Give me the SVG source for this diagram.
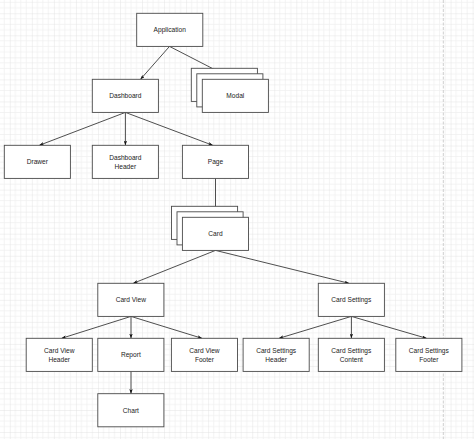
<svg xmlns="http://www.w3.org/2000/svg" width="474" height="439" viewBox="0 0 474 439">
  <defs>
    <pattern id="grid" patternUnits="userSpaceOnUse" x="9.8" y="13.3" width="22.04" height="22.04">
      <path d="M5.51 0V22.04M11.02 0V22.04M16.53 0V22.04M0 5.51H22.04M0 11.02H22.04M0 16.53H22.04" stroke="#f1f1f1" stroke-width="0.8" fill="none"/>
      <path d="M0 0V22.04M0 0H22.04" stroke="#e2e2e2" stroke-width="0.9" fill="none"/>
    </pattern>
    <marker id="arr" viewBox="0 0 8 6" refX="8" refY="3" markerWidth="4.6" markerHeight="3.5" markerUnits="userSpaceOnUse" orient="auto">
      <path d="M0 0L8 3L0 6L2 3Z" fill="#111"/>
    </marker>
    <style>
      .box{fill:#fff;stroke:#4a4a4a;stroke-width:0.9}
      .lbl{font-family:"Liberation Sans",Arial,sans-serif;font-size:6.6px;fill:#222;text-anchor:middle;dominant-baseline:central}
      .edge{stroke:#222;stroke-width:0.8;fill:none;marker-end:url(#arr)}
    </style>
  </defs>
  <rect x="0" y="0" width="474" height="439" fill="#fff"/>
  <rect x="0" y="0" width="474" height="439" fill="url(#grid)"/>
  <line x1="443.3" y1="0" x2="443.3" y2="439" stroke="#cfcfcf" stroke-width="1" stroke-dasharray="3 1.5"/>

  <g id="connectors">
    <line class="edge" x1="169.5" y1="46.4" x2="140.5" y2="79.3"/>
    <line class="edge" x1="169.5" y1="46.4" x2="233.5" y2="79.3"/>
    <line class="edge" x1="125.4" y1="112.4" x2="39.3" y2="145.3"/>
    <line class="edge" x1="125.4" y1="112.4" x2="125.4" y2="145.3"/>
    <line class="edge" x1="125.4" y1="112.4" x2="212.8" y2="145.3"/>
    <line class="edge" x1="215.5" y1="178.4" x2="215.5" y2="217.3"/>
    <line class="edge" x1="215.5" y1="250.4" x2="133.2" y2="283.3"/>
    <line class="edge" x1="215.5" y1="250.4" x2="349" y2="283.3"/>
    <line class="edge" x1="131" y1="316.4" x2="61.6" y2="338.3"/>
    <line class="edge" x1="131" y1="316.4" x2="131" y2="338.3"/>
    <line class="edge" x1="131" y1="316.4" x2="202" y2="338.3"/>
    <line class="edge" x1="131" y1="371.4" x2="131" y2="393.7"/>
    <line class="edge" x1="351.4" y1="316.4" x2="279" y2="338.3"/>
    <line class="edge" x1="351.4" y1="316.4" x2="351.4" y2="338.3"/>
    <line class="edge" x1="351.4" y1="316.4" x2="426.6" y2="338.3"/>
  </g>

  <g id="application">
    <rect class="box" x="136.7" y="13.3" width="66.1" height="33.1"/>
    <text class="lbl" x="169.75" y="29.85">Application</text>
  </g>
  <g id="modal">
    <rect class="box" x="191.3" y="68.3" width="66.1" height="33.1"/>
    <rect class="box" x="196.8" y="73.8" width="66.1" height="33.1"/>
    <rect class="box" x="202.3" y="79.3" width="66.1" height="33.1"/>
    <text class="lbl" x="235.35" y="95.85">Modal</text>
  </g>
  <g id="dashboard">
    <rect class="box" x="92.3" y="79.3" width="66.1" height="33.1"/>
    <text class="lbl" x="125.35" y="95.85">Dashboard</text>
  </g>
  <g id="drawer">
    <rect class="box" x="4.3" y="145.3" width="66.1" height="33.1"/>
    <text class="lbl" x="37.35" y="161.85">Drawer</text>
  </g>
  <g id="dashboard-header">
    <rect class="box" x="92.3" y="145.3" width="66.1" height="33.1"/>
    <text class="lbl" x="125.35" y="157.7">Dashboard</text>
    <text class="lbl" x="125.35" y="166">Header</text>
  </g>
  <g id="page">
    <rect class="box" x="182.4" y="145.3" width="66.1" height="33.1"/>
    <text class="lbl" x="215.45" y="161.85">Page</text>
  </g>
  <g id="card">
    <rect class="box" x="171.5" y="206.3" width="66.1" height="33.1"/>
    <rect class="box" x="177" y="211.8" width="66.1" height="33.1"/>
    <rect class="box" x="182.4" y="217.3" width="66.1" height="33.1"/>
    <text class="lbl" x="215.45" y="233.85">Card</text>
  </g>
  <g id="card-view">
    <rect class="box" x="97.8" y="283.3" width="66.1" height="33.1"/>
    <text class="lbl" x="130.85" y="299.85">Card View</text>
  </g>
  <g id="card-settings">
    <rect class="box" x="318.3" y="283.3" width="66.1" height="33.1"/>
    <text class="lbl" x="351.35" y="299.85">Card Settings</text>
  </g>
  <g id="card-view-header">
    <rect class="box" x="26.2" y="338.3" width="66.1" height="33.1"/>
    <text class="lbl" x="59.25" y="350.7">Card View</text>
    <text class="lbl" x="59.25" y="359">Header</text>
  </g>
  <g id="report">
    <rect class="box" x="97.8" y="338.3" width="66.1" height="33.1"/>
    <text class="lbl" x="130.85" y="354.85">Report</text>
  </g>
  <g id="card-view-footer">
    <rect class="box" x="171.4" y="338.3" width="66.1" height="33.1"/>
    <text class="lbl" x="204.45" y="350.7">Card View</text>
    <text class="lbl" x="204.45" y="359">Footer</text>
  </g>
  <g id="chart">
    <rect class="box" x="97.8" y="393.7" width="66.1" height="33.1"/>
    <text class="lbl" x="130.85" y="410.25">Chart</text>
  </g>
  <g id="card-settings-header">
    <rect class="box" x="243.1" y="338.3" width="66.1" height="33.1"/>
    <text class="lbl" x="276.15" y="350.7">Card Settings</text>
    <text class="lbl" x="276.15" y="359">Header</text>
  </g>
  <g id="card-settings-content">
    <rect class="box" x="318.3" y="338.3" width="66.1" height="33.1"/>
    <text class="lbl" x="351.35" y="350.7">Card Settings</text>
    <text class="lbl" x="351.35" y="359">Content</text>
  </g>
  <g id="card-settings-footer">
    <rect class="box" x="395.8" y="338.3" width="66.1" height="33.1"/>
    <text class="lbl" x="428.85" y="350.7">Card Settings</text>
    <text class="lbl" x="428.85" y="359">Footer</text>
  </g>
</svg>
